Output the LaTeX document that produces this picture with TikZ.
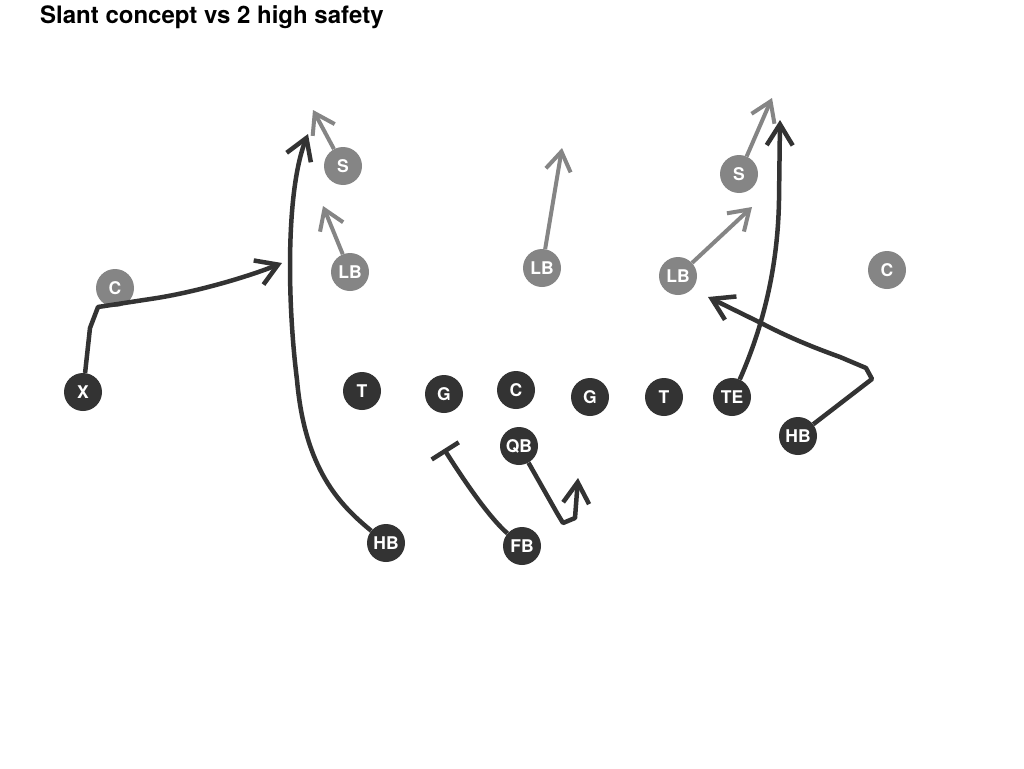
\documentclass[tikz,border=0pt]{standalone}
\usepackage{fontspec}
\setmainfont{TeX Gyre Heros}
\usetikzlibrary{arrows.meta}
\definecolor{dark}{HTML}{333333}
\definecolor{lgray}{HTML}{858585}
\tikzset{
  player/.style={circle,minimum size=38pt,inner sep=0pt,text=white,font=\fontsize{17.5}{17.5}\selectfont\bfseries},
  off/.style={player,fill=dark},
  def/.style={player,fill=lgray},
  route/.style={draw=dark,line width=4.5pt,line join=round,-{Straight Barb[length=21pt,width=26pt]}},
  droute/.style={draw=lgray,line width=4pt,line join=round,-{Straight Barb[length=19pt,width=25pt]}},
  block/.style={draw=dark,line width=4.5pt,line join=round,-{Bar[width=32pt]}},
}
\begin{document}
\begin{tikzpicture}[x=1pt,y=-1pt]
\useasboundingbox (0,0) rectangle (1024,768);
\fill[white] (0,0) rectangle (1024,768);
\node[anchor=base west,inner sep=0pt,font=\fontsize{24}{24}\selectfont\bfseries] (title) at (40,24) {Slant concept vs 2 high safety};
% defense
\node[def] (Cl) at (115,288) {C};
\node[def] (Sl) at (343,166) {S};
\node[def] (LBl) at (350,272) {LB};
\node[def] (LBm) at (542,268) {LB};
\node[def] (LBr) at (678,276) {LB};
\node[def] (Sr) at (739,174) {S};
\node[def] (Cr) at (887,270) {C};
% offense
\node[off] (X) at (83,392) {X};
\node[off] (LT) at (362,391) {T};
\node[off] (LG) at (444,394) {G};
\node[off] (Ce) at (516,390) {C};
\node[off] (RG) at (590,397) {G};
\node[off] (RT) at (664,397) {T};
\node[off] (TE) at (732,397) {TE};
\node[off] (HBr) at (798,436) {HB};
\node[off] (QB) at (519,446) {QB};
\node[off] (HBl) at (386,543) {HB};
\node[off] (FB) at (522,546) {FB};
% route ends
\coordinate (Xend) at (282,263);
\coordinate (HBlend) at (308,134);
\coordinate (TEend) at (780,120);
\coordinate (HBrend) at (708,297);
\coordinate (Srend) at (772,98);
\coordinate (LBrend) at (752,207);
\coordinate (LBmend) at (562,148);
\coordinate (Slend) at (313,110);
\coordinate (LBlend) at (323,206);
\coordinate (FBend) at (444,449);
\coordinate (QBend) at (578,478);
% defensive routes
\draw[droute] (Sr) -- (Srend);
\draw[droute] (LBr) -- (LBrend);
\draw[droute] (LBm) -- (LBmend);
\draw[droute] (Sl) -- (Slend);
\draw[droute] (LBl) -- (LBlend);
% offensive routes
\draw[route] (X) -- (90,328) -- (98,307) -- (157,298) .. controls (200,291) and (250,276) .. (Xend);
\draw[route] (HBl) .. controls (340,505) and (305,470) .. (297,380) .. controls (287,300) and (286,190) .. (HBlend);
\draw[route] (TE) .. controls (766,320) and (778,260) .. (779,200) -- (TEend);
\draw[route] (HBr) -- (872,379) -- (866,368) -- (840,357) .. controls (815,348) and (790,338) .. (763,324) -- (HBrend);
\draw[block] (FB) .. controls (492,520) and (470,490) .. (FBend);
\draw[route] (QB) -- (557,513) -- (563,523) -- (575,518) -- (QBend);
\end{tikzpicture}
\end{document}
